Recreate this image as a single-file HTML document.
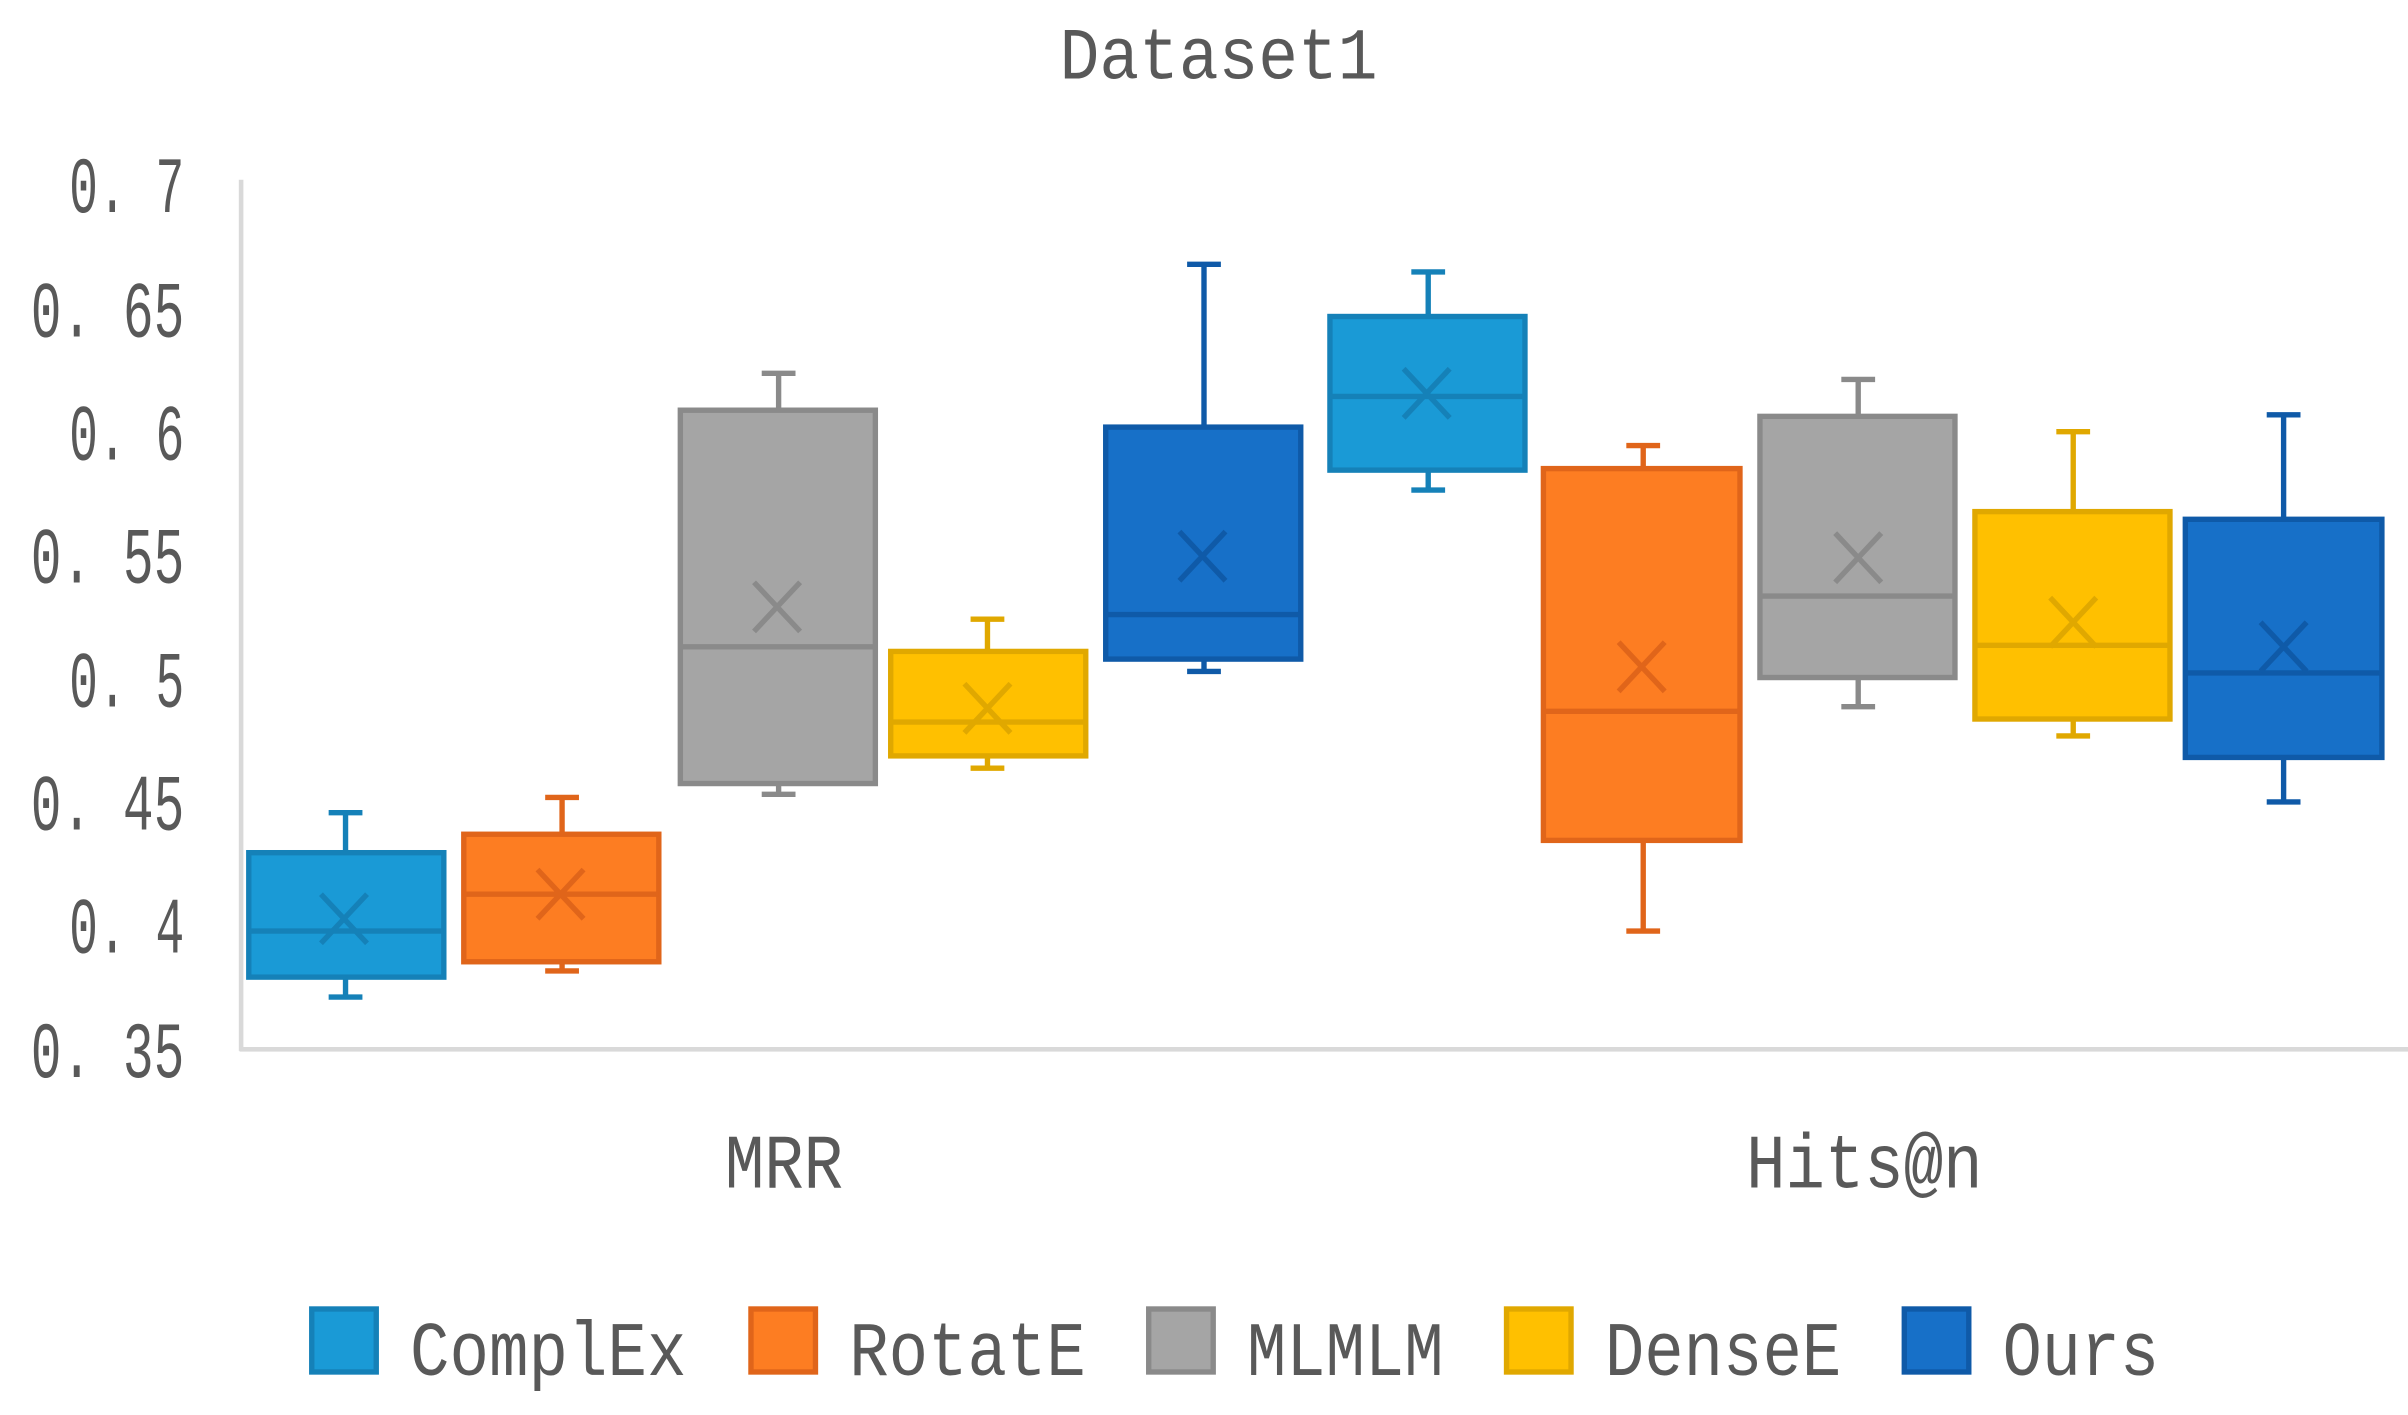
<!DOCTYPE html>
<html><head><style>html,body{margin:0;padding:0;background:#fff}svg{display:block}text{font-family:"Liberation Mono",monospace;fill:#595959}</style></head>
<body>
<svg width="2408" height="1415" viewBox="0 0 1568 921" preserveAspectRatio="none" xmlns="http://www.w3.org/2000/svg">
<rect width="1568" height="921" fill="#fff"/>
<text x="690" y="51" font-size="48" textLength="207" lengthAdjust="spacingAndGlyphs">Dataset1</text>
<g font-size="52" text-anchor="end">
<text x="120" y="138" textLength="75" lengthAdjust="spacingAndGlyphs">0. 7</text>
<text x="120" y="219" textLength="100" lengthAdjust="spacingAndGlyphs">0. 65</text>
<text x="120" y="299" textLength="75" lengthAdjust="spacingAndGlyphs">0. 6</text>
<text x="120" y="379" textLength="100" lengthAdjust="spacingAndGlyphs">0. 55</text>
<text x="120" y="460" textLength="75" lengthAdjust="spacingAndGlyphs">0. 5</text>
<text x="120" y="540" textLength="100" lengthAdjust="spacingAndGlyphs">0. 45</text>
<text x="120" y="620" textLength="75" lengthAdjust="spacingAndGlyphs">0. 4</text>
<text x="120" y="701" textLength="100" lengthAdjust="spacingAndGlyphs">0. 35</text>
</g>
<line x1="157" y1="117" x2="157" y2="684" stroke="#d9d9d9" stroke-width="3"/>
<line x1="156" y1="683" x2="1568" y2="683" stroke="#d9d9d9" stroke-width="3"/>
<g stroke-width="3.5" fill="none">
<g stroke="#1581b8"><line x1="225" y1="529" x2="225" y2="649"/><line x1="214" y1="529" x2="236" y2="529"/><line x1="214" y1="649" x2="236" y2="649"/><rect x="162" y="555" width="127" height="81" fill="#1a9ad6"/><line x1="162" y1="606" x2="289" y2="606"/><path d="M209 582 L239 614 M239 582 L209 614"/></g>
<g stroke="#e0651a"><line x1="366" y1="519" x2="366" y2="632"/><line x1="355" y1="519" x2="377" y2="519"/><line x1="355" y1="632" x2="377" y2="632"/><rect x="302" y="543" width="127" height="83" fill="#fd7d22"/><line x1="302" y1="582" x2="429" y2="582"/><path d="M350 566 L380 598 M380 566 L350 598"/></g>
<g stroke="#8a8a8a"><line x1="507" y1="243" x2="507" y2="517"/><line x1="496" y1="243" x2="518" y2="243"/><line x1="496" y1="517" x2="518" y2="517"/><rect x="443" y="267" width="127" height="243" fill="#a5a5a5"/><line x1="443" y1="421" x2="570" y2="421"/><path d="M491 379 L521 411 M521 379 L491 411"/></g>
<g stroke="#e0a800"><line x1="643" y1="403" x2="643" y2="500"/><line x1="632" y1="403" x2="654" y2="403"/><line x1="632" y1="500" x2="654" y2="500"/><rect x="580" y="424" width="127" height="68" fill="#ffc000"/><line x1="580" y1="470" x2="707" y2="470"/><path d="M628 445 L658 477 M658 445 L628 477"/></g>
<g stroke="#0f5aa8"><line x1="784" y1="172" x2="784" y2="437"/><line x1="773" y1="172" x2="795" y2="172"/><line x1="773" y1="437" x2="795" y2="437"/><rect x="720" y="278" width="127" height="151" fill="#1770c8"/><line x1="720" y1="400" x2="847" y2="400"/><path d="M768 346 L798 378 M798 346 L768 378"/></g>
<g stroke="#1581b8"><line x1="930" y1="177" x2="930" y2="319"/><line x1="919" y1="177" x2="941" y2="177"/><line x1="919" y1="319" x2="941" y2="319"/><rect x="866" y="206" width="127" height="100" fill="#1a9ad6"/><line x1="866" y1="258" x2="993" y2="258"/><path d="M914 240 L944 272 M944 240 L914 272"/></g>
<g stroke="#e0651a"><line x1="1070" y1="290" x2="1070" y2="606"/><line x1="1059" y1="290" x2="1081" y2="290"/><line x1="1059" y1="606" x2="1081" y2="606"/><rect x="1005" y="305" width="128" height="242" fill="#fd7d22"/><line x1="1005" y1="463" x2="1133" y2="463"/><path d="M1054 418 L1084 450 M1084 418 L1054 450"/></g>
<g stroke="#8a8a8a"><line x1="1210" y1="247" x2="1210" y2="460"/><line x1="1199" y1="247" x2="1221" y2="247"/><line x1="1199" y1="460" x2="1221" y2="460"/><rect x="1146" y="271" width="127" height="170" fill="#a5a5a5"/><line x1="1146" y1="388" x2="1273" y2="388"/><path d="M1195 347 L1225 379 M1225 347 L1195 379"/></g>
<g stroke="#e0a800"><line x1="1350" y1="281" x2="1350" y2="479"/><line x1="1339" y1="281" x2="1361" y2="281"/><line x1="1339" y1="479" x2="1361" y2="479"/><rect x="1286" y="333" width="127" height="135" fill="#ffc000"/><line x1="1286" y1="420" x2="1413" y2="420"/><path d="M1335 389 L1365 421 M1365 389 L1335 421"/></g>
<g stroke="#0f5aa8"><line x1="1487" y1="270" x2="1487" y2="522"/><line x1="1476" y1="270" x2="1498" y2="270"/><line x1="1476" y1="522" x2="1498" y2="522"/><rect x="1423" y="338" width="128" height="155" fill="#1770c8"/><line x1="1423" y1="438" x2="1551" y2="438"/><path d="M1472 405 L1502 437 M1502 405 L1472 437"/></g>
</g>
<text x="472" y="773" font-size="50" textLength="77" lengthAdjust="spacingAndGlyphs">MRR</text>
<text x="1137" y="773" font-size="50" textLength="154" lengthAdjust="spacingAndGlyphs">Hits@n</text>
<g stroke-width="3.5">
<rect x="203" y="852" width="42" height="41" fill="#1a9ad6" stroke="#1581b8"/>
<rect x="489" y="852" width="42" height="41" fill="#fd7d22" stroke="#e0651a"/>
<rect x="748" y="852" width="42" height="41" fill="#a5a5a5" stroke="#8a8a8a"/>
<rect x="981" y="852" width="42" height="41" fill="#ffc000" stroke="#e0a800"/>
<rect x="1240" y="852" width="42" height="41" fill="#1770c8" stroke="#0f5aa8"/>
</g>
<g font-size="50">
<text x="267" y="895" textLength="180" lengthAdjust="spacingAndGlyphs">ComplEx</text>
<text x="553" y="895" textLength="154" lengthAdjust="spacingAndGlyphs">RotatE</text>
<text x="812" y="895" textLength="128" lengthAdjust="spacingAndGlyphs">MLMLM</text>
<text x="1045" y="895" textLength="154" lengthAdjust="spacingAndGlyphs">DenseE</text>
<text x="1304" y="895" textLength="102" lengthAdjust="spacingAndGlyphs">Ours</text>
</g>
</svg>
</body></html>
